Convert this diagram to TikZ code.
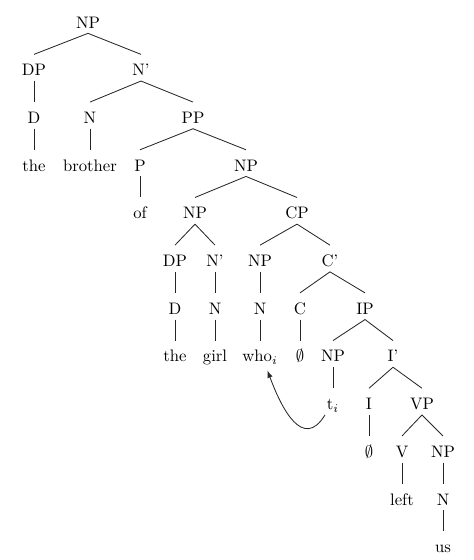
\documentclass[tikz,border=0pt]{standalone}
\usepackage{amssymb}
\begin{document}
\begin{tikzpicture}[x=0.6pt,y=-0.6pt,
  lbl/.style={anchor=base,inner sep=0pt,text height=12.6pt,text depth=3pt,font=\fontsize{10}{12}\selectfont},
  edge/.style={draw=black!85,line width=0.5pt}]
\useasboundingbox (0,0) rectangle (474,560);
% level 1
\node[lbl] (np1) at (88,28) {NP};
% level 2
\node[lbl] (dp1) at (34,75.7) {DP};
\node[lbl] (nb1) at (141,75.7) {N'};
% level 3
\node[lbl] (d1) at (34,123.4) {D};
\node[lbl] (n1) at (90,123.4) {N};
\node[lbl] (pp) at (193,123.4) {PP};
% level 4
\node[lbl] (the1) at (34,171.1) {the};
\node[lbl] (brother) at (90,171.1) {brother};
\node[lbl] (p) at (140,171.1) {P};
\node[lbl] (np2) at (246,171.1) {NP};
% level 5
\node[lbl] (of) at (140,218.8) {of};
\node[lbl] (np3) at (195,218.8) {NP};
\node[lbl] (cp) at (297,218.8) {CP};
% level 6
\node[lbl] (dp2) at (175,266.5) {DP};
\node[lbl] (nb2) at (215,266.5) {N'};
\node[lbl] (np4) at (260,266.5) {NP};
\node[lbl] (cb) at (330,266.5) {C'};
% level 7
\node[lbl] (d2) at (175,314.2) {D};
\node[lbl] (n2) at (215,314.2) {N};
\node[lbl] (n3) at (260,314.2) {N};
\node[lbl] (c) at (300,314.2) {C};
\node[lbl] (ip) at (365,314.2) {IP};
% level 8
\node[lbl] (the2) at (175,361.9) {the};
\node[lbl] (girl) at (215,361.9) {girl};
\node[lbl] (who) at (260,361.9) {who$_i$};
\node[lbl] (null1) at (300,361.9) {$\emptyset$};
\node[lbl] (np5) at (333,361.9) {NP};
\node[lbl] (ib) at (393,361.9) {I'};
% level 9
\node[lbl] (t) at (333,409.6) {t$_i$};
\node[lbl] (i) at (369,409.6) {I};
\node[lbl] (vp) at (422,409.6) {VP};
% level 10
\node[lbl] (null2) at (369,457.3) {$\emptyset$};
\node[lbl] (v) at (402,457.3) {V};
\node[lbl] (np6) at (443,457.3) {NP};
% level 11
\node[lbl] (left) at (402,505) {left};
\node[lbl] (n4) at (443,505) {N};
% level 12
\node[lbl] (us) at (443,552.7) {us};
% edges
\foreach \a/\b in {np1/dp1,np1/nb1,dp1/d1,d1/the1,nb1/n1,nb1/pp,n1/brother,pp/p,pp/np2,p/of,
  np2/np3,np2/cp,np3/dp2,np3/nb2,dp2/d2,nb2/n2,d2/the2,n2/girl,cp/np4,cp/cb,np4/n3,n3/who,
  cb/c,cb/ip,c/null1,ip/np5,ip/ib,np5/t,ib/i,ib/vp,i/null2,vp/v,vp/np6,v/left,np6/n4,n4/us}
  \draw[edge] (\a.south) -- (\b.north);
% movement arrow
\draw[edge,->,>=latex] ([xshift=-1pt]t.south west) .. controls +(-22,36) and +(14,38) .. ([xshift=4.5pt,yshift=-2pt]who.south);
\end{tikzpicture}
\end{document}
